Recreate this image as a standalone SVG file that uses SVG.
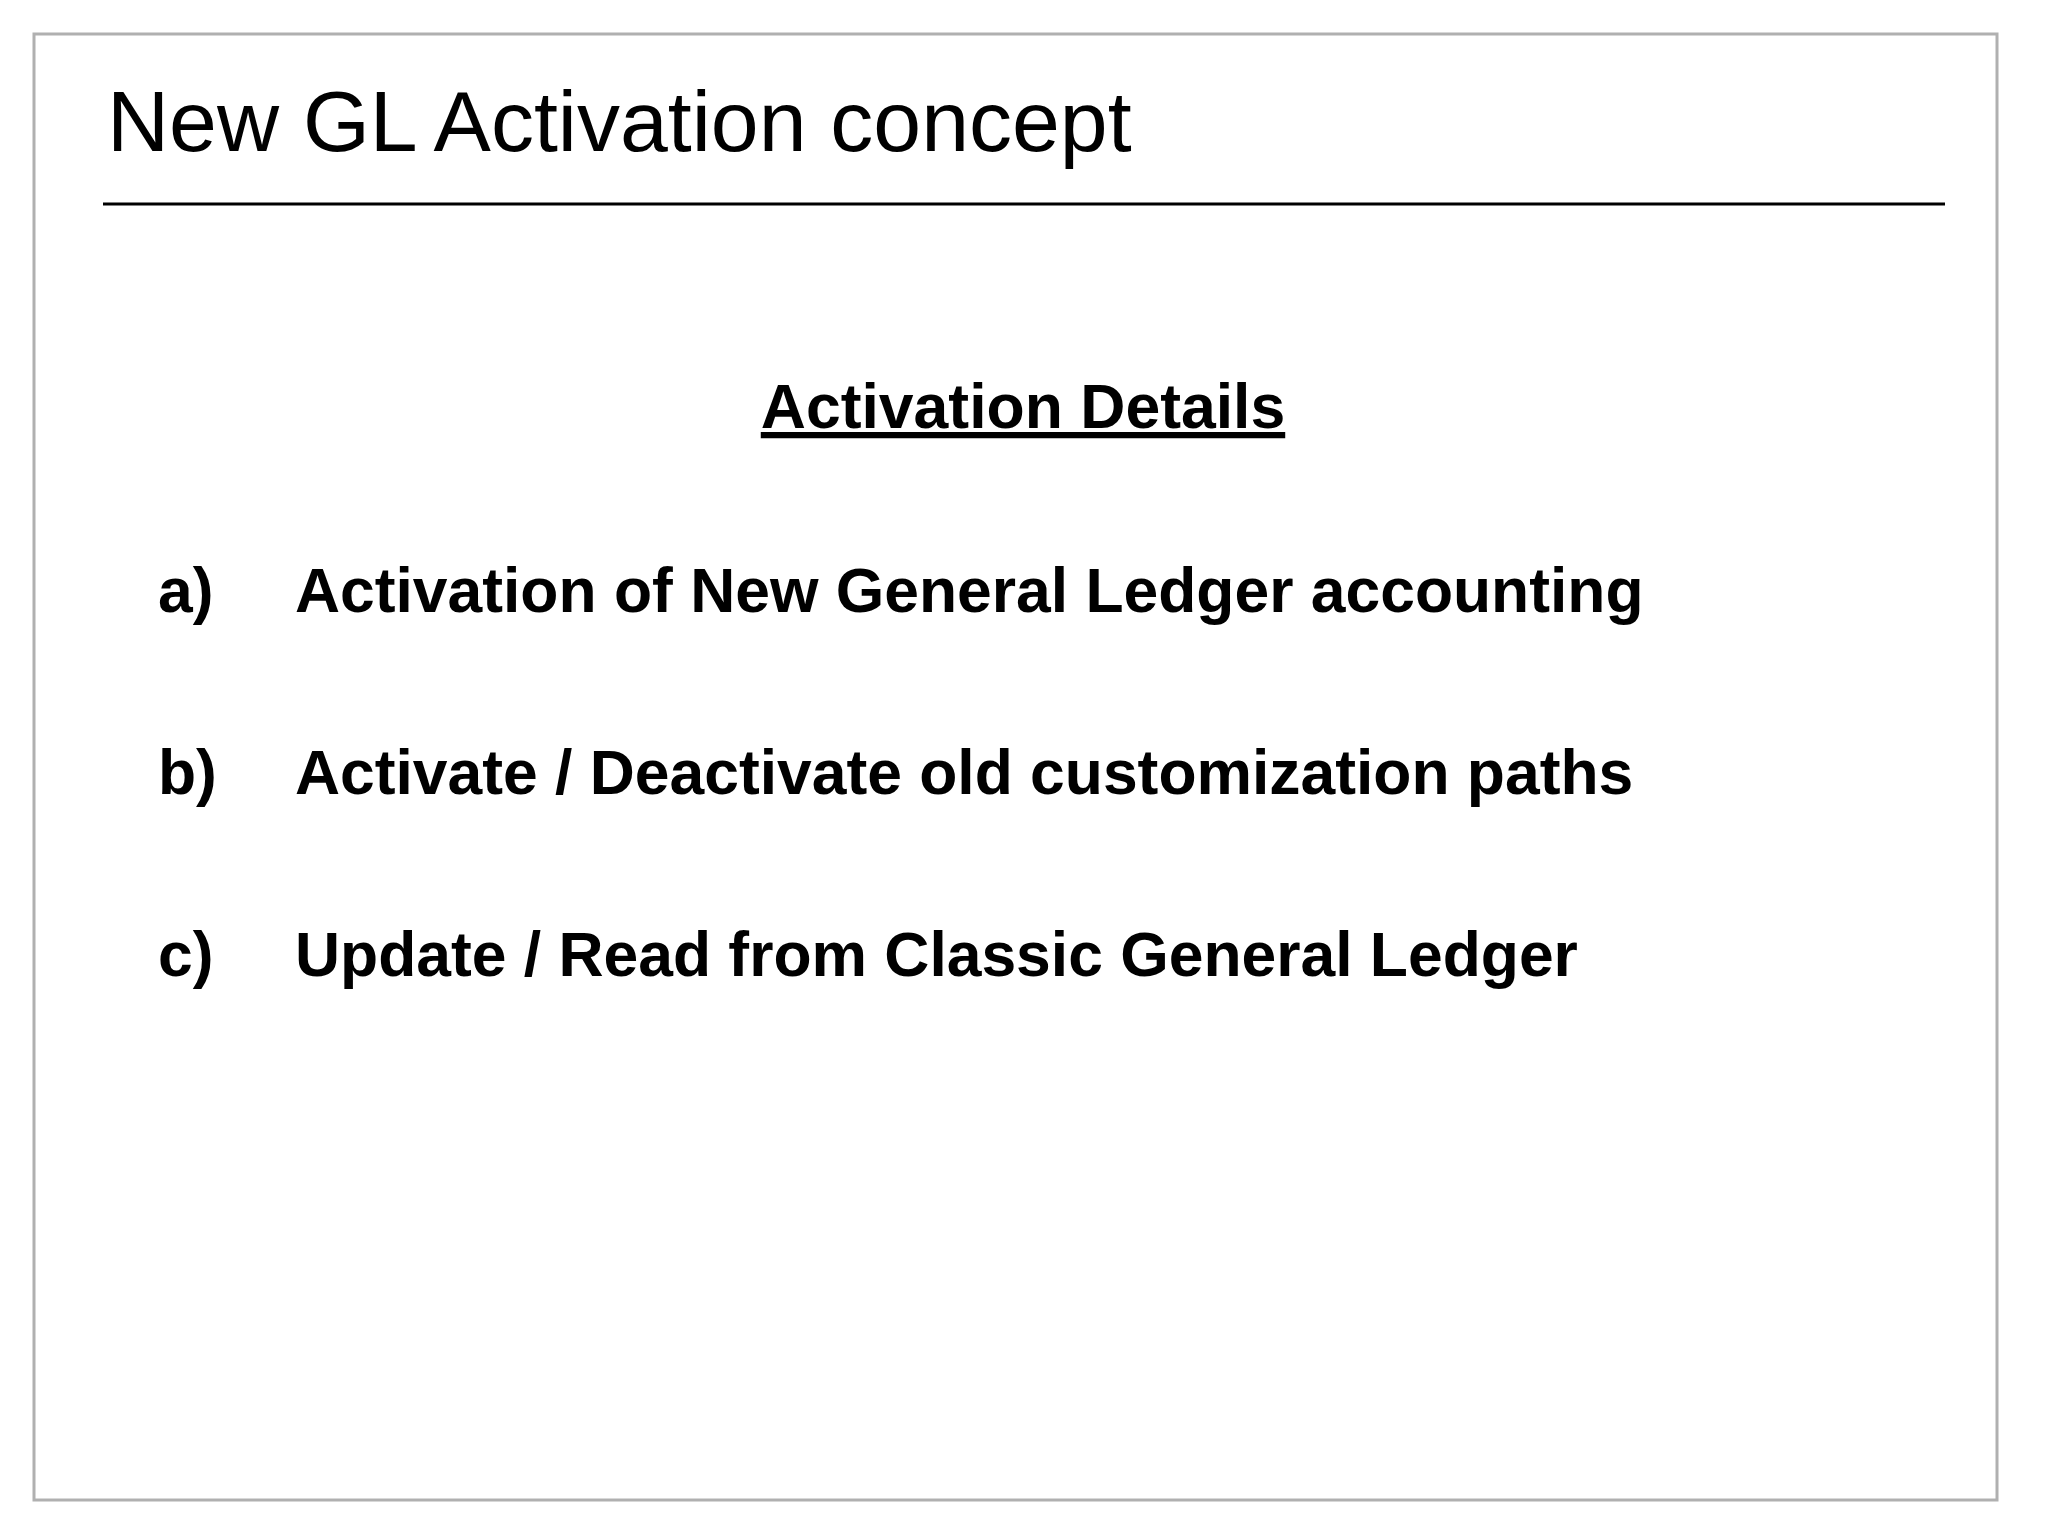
<svg xmlns="http://www.w3.org/2000/svg" width="2048" height="1536" viewBox="0 0 2048 1536">
<style>
.t{font-family:"Liberation Sans",Arial,sans-serif;fill:#000}
.b{font-weight:bold;font-size:62.4px}
</style>
<rect x="0" y="0" width="2048" height="1536" fill="#fff"/>
<rect x="34" y="34" width="1963" height="1466" fill="#fff" stroke="#b0b0b0" stroke-width="3"/>
<g id="title"><text class="t" x="107" y="151" font-size="86">New GL Activation concept</text></g>
<line x1="103" y1="204" x2="1945" y2="204" stroke="#000" stroke-width="3"/>
<g id="heading"><text class="t" x="1023" y="428" font-size="62.5" font-weight="bold" text-anchor="middle" text-decoration="underline">Activation Details</text></g>
<g id="item-a"><text class="t b" x="158" y="612">a)</text><text class="t b" x="295" y="612">Activation of New General Ledger accounting</text></g>
<g id="item-b"><text class="t b" x="158" y="794">b)</text><text class="t b" x="295" y="794">Activate / Deactivate old customization paths</text></g>
<g id="item-c"><text class="t b" x="158" y="976">c)</text><text class="t b" x="295" y="976">Update / Read from Classic General Ledger</text></g>
</svg>
